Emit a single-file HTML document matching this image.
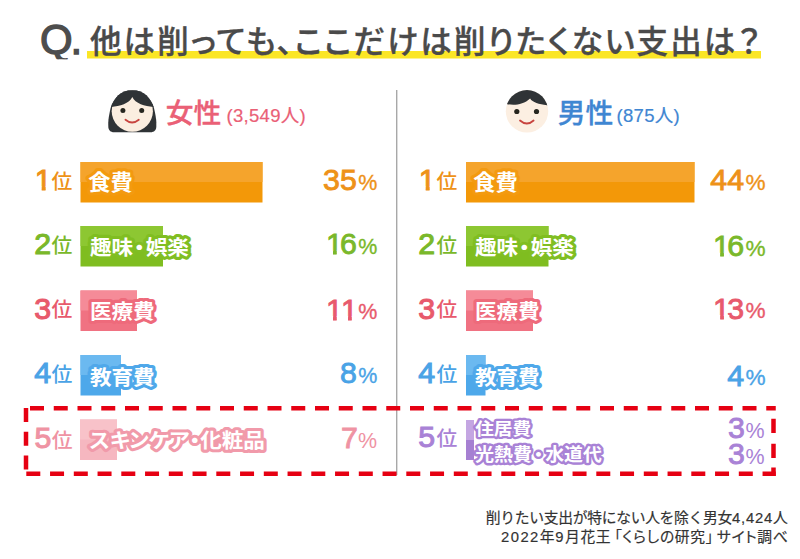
<!DOCTYPE html>
<html lang="ja">
<head>
<meta charset="utf-8">
<title>他は削っても、ここだけは削りたくない支出は？</title>
<style>
html,body{margin:0;padding:0;background:#fff;}
body{width:800px;height:559px;overflow:hidden;position:relative;}
svg{display:block;position:absolute;left:0;top:0;}
text{font-family:"Liberation Sans","Noto Sans CJK JP",sans-serif;}
.title{font-size:31.5px;font-weight:500;fill:#4a4a4a;stroke:#4a4a4a;stroke-width:0.35px;font-feature-settings:"palt";}
.q{font-size:42px;font-weight:400;fill:#4d4d4d;stroke:#4d4d4d;stroke-width:1.3px;letter-spacing:-2.2px;}
.rk{font-size:30.3px;font-weight:400;stroke-width:1.05px;}
.rkj{font-size:20.8px;font-weight:500;}
.pc{font-size:30.3px;font-weight:400;stroke-width:0.9px;letter-spacing:0px;}
.pcs{font-size:22.6px;font-weight:400;stroke-width:0.35px;}
.lb{font-size:21.6px;font-weight:700;fill:#fff;stroke-width:6.5px;stroke-linejoin:round;paint-order:stroke fill;}
.lb5{font-size:18.7px;font-weight:700;fill:#fff;stroke-width:5px;stroke-linejoin:round;paint-order:stroke fill;}
.hd{font-size:27.8px;font-weight:500;stroke-width:0.3px;stroke-linejoin:round;}
.hds{font-size:18.5px;font-weight:400;letter-spacing:0.3px;stroke-width:0.2px;}
.ft{font-size:14.8px;font-weight:400;fill:#333;stroke:#333;stroke-width:0.18px;}
</style>
</head>
<body>
<svg width="800" height="559" viewBox="0 0 800 559">
<rect x="0" y="0" width="800" height="559" fill="#ffffff"/>

<!-- title -->
<rect x="87" y="51" width="674" height="7.5" fill="#fbe626"/>
<clipPath id="qc"><rect x="30" y="15" width="60" height="44.2"/></clipPath>
<text class="q" x="40" y="54.4" clip-path="url(#qc)">Q.</text>
<text class="title" x="90" y="52.5" textLength="670" lengthAdjust="spacing">他は削っても、ここだけは削りたくない支出は？</text>

<!-- divider -->
<rect x="396" y="90" width="1.4" height="385" fill="#a8a8a8"/>

<!-- female header -->
<g>
  <clipPath id="hf"><path d="M132.3 90.3 C120.6 90.3 114 98 110.6 108 C109.4 113.5 108.3 119 108.25 122.6 L108.3 126.8 C108.4 130.2 110.5 132.3 114 132.3 L150.6 132.3 C154.1 132.3 156.2 130.2 156.3 126.8 L156.35 122.6 C156.3 119 155.2 113.5 154 108 C150.6 98 144 90.3 132.3 90.3 Z"/></clipPath>
  <path d="M132.3 90.3 C120.6 90.3 114 98 110.6 108 C109.4 113.5 108.3 119 108.25 122.6 L108.3 126.8 C108.4 130.2 110.5 132.3 114 132.3 L150.6 132.3 C154.1 132.3 156.2 130.2 156.3 126.8 L156.35 122.6 C156.3 119 155.2 113.5 154 108 C150.6 98 144 90.3 132.3 90.3 Z" fill="#2f3336"/>
  <circle cx="132.3" cy="111.2" r="20.6" fill="#fbeee0"/>
  <path clip-path="url(#hf)" d="M105 107 L111.4 107 C119.5 106.6 129.5 103.5 132.3 97.1 C135.1 103.5 145.1 106.6 153.2 107 L160 107 L160 85 L105 85 Z" fill="#2f3336"/>
  <circle cx="122.9" cy="110.4" r="2.5" fill="#26261f"/>
  <circle cx="141.7" cy="110.6" r="2.5" fill="#26261f"/>
  <path d="M125.5 119.7 Q132.1 125.2 138.8 119.7" fill="none" stroke="#c8443f" stroke-width="1.8" stroke-linecap="round"/>
</g>
<text class="hd" x="165.8" y="123.2" fill="#ea6076" stroke="#ea6076">女性</text>
<text class="hds" x="226.5" y="122" fill="#ea6076" stroke="#ea6076">(3,549人)</text>

<!-- male header -->
<g>
  <clipPath id="hm"><circle cx="527" cy="111.3" r="21.2"/></clipPath>
  <circle cx="527" cy="111.3" r="21.2" fill="#fcefe2"/>
  <path clip-path="url(#hm)" d="M500 104.2 L507.2 104.2 C514 105.6 523.5 105 530.1 98.6 C532.5 102.5 539 104.5 546.9 105.3 L555 105.6 L555 85 L500 85 Z" fill="#2f3336"/>
  <circle cx="516.8" cy="111.5" r="2.6" fill="#26261f"/>
  <circle cx="536.5" cy="111.5" r="2.6" fill="#26261f"/>
  <path d="M520 120.5 Q526.9 126.6 533.6 120.5" fill="none" stroke="#c8443f" stroke-width="1.8" stroke-linecap="round"/>
</g>
<text class="hd" x="557.8" y="123.2" fill="#3f86d2" stroke="#3f86d2">男性</text>
<text class="hds" x="616.5" y="122" fill="#3f86d2" stroke="#3f86d2">(875人)</text>

<!-- FEMALE rows -->
<g>
<rect x="80.5" y="162" width="182" height="40.5" fill="#f39808"/>
<rect x="80.5" y="162" width="182" height="20" fill="#f5a42c"/>
<text class="rk" fill="#ee9218" stroke="#ee9218" x="34.7" y="190.3" clip-path="url(#k0)">1</text><text class="rkj jp" fill="#ee9218" transform="translate(51.6,188.6) scale(1.0,1)">位</text>
<text class="lb jp" stroke="#f39a10" transform="translate(88.30000000000001,189.89999999999998) scale(1,0.95)" style="font-size:22.3px">食費</text>
<text class="pc" fill="#ee9218" stroke="#ee9218" x="323.11 339.95" y="190.2">35</text>
<text class="pcs" fill="#ee9218" stroke="#ee9218" transform="translate(358.2,189.9) scale(0.95,1)">%</text>
</g>
<g>
<rect x="80.5" y="226" width="82.5" height="40.5" fill="#7fbd20"/>
<rect x="80.5" y="226" width="82.5" height="20" fill="#8dc732"/>
<text class="rk" fill="#7ab82a" stroke="#7ab82a" x="34.2" y="254.3">2</text><text class="rkj jp" fill="#7ab82a" transform="translate(51.6,252.6) scale(1.0,1)">位</text>
<text class="lb jp" stroke="#80be22" transform="translate(89.9,254.7) scale(1,0.95)">趣味<tspan dx="-4.5">・</tspan><tspan dx="-4.5">娯楽</tspan></text>
<text class="pc" fill="#7ab82a" stroke="#7ab82a" x="325.91 339.95" y="254.2" clip-path="url(#k1)">16</text>
<text class="pcs" fill="#7ab82a" stroke="#7ab82a" transform="translate(358.2,253.9) scale(0.95,1)">%</text>
</g>
<g>
<rect x="80.5" y="290.5" width="56.5" height="40.5" fill="#f07282"/>
<rect x="80.5" y="290.5" width="56.5" height="20" fill="#f58b98"/>
<text class="rk" fill="#e85a6c" stroke="#e85a6c" x="34.2" y="318.8">3</text><text class="rkj jp" fill="#e85a6c" transform="translate(51.6,317.1) scale(1.0,1)">位</text>
<text class="lb jp" stroke="#ee6a7b" transform="translate(89.9,319.2) scale(1,0.95)">医療費</text>
<text class="pc" fill="#e85a6c" stroke="#e85a6c" x="325.91 340.95" y="319.59999999999997" clip-path="url(#k2)">11</text>
<text class="pcs" fill="#e85a6c" stroke="#e85a6c" transform="translate(358.2,319.29999999999995) scale(0.95,1)">%</text>
</g>
<g>
<rect x="80.5" y="355" width="40.5" height="40.5" fill="#4da8ea"/>
<rect x="80.5" y="355" width="40.5" height="20" fill="#6bb9f0"/>
<text class="rk" fill="#4aa3e6" stroke="#4aa3e6" x="34.2" y="383.3">4</text><text class="rkj jp" fill="#4aa3e6" transform="translate(51.6,381.6) scale(1.0,1)">位</text>
<text class="lb jp" stroke="#4fa8ea" transform="translate(89.9,384.7) scale(1,0.95)">教育費</text>
<text class="pc" fill="#4aa3e6" stroke="#4aa3e6" x="339.95" y="383.2">8</text>
<text class="pcs" fill="#4aa3e6" stroke="#4aa3e6" transform="translate(358.2,382.9) scale(0.95,1)">%</text>
</g>
<g>
  <rect x="80" y="419.5" width="37" height="40.5" fill="#f6b7c0"/>
  <rect x="80" y="419.5" width="37" height="20" fill="#f8c2c9"/>
  <text class="rk" fill="#ef93a3" stroke="#ef93a3" x="34.4" y="448.2">5</text><text class="rkj" fill="#ef93a3" transform="translate(51.8,448.1) scale(1.0,1)">位</text>
  <text class="lb" stroke="#f19aaa" transform="translate(89.5,448.4) scale(1,0.94)" style="font-feature-settings:'palt'">スキンケア・化粧品</text>
  <text class="pc" fill="#ef93a3" stroke="#ef93a3" text-anchor="end" x="357.8" y="448.3">7</text>
  <text class="pcs" fill="#ef93a3" transform="translate(357.9,448.1) scale(0.95,1)">%</text>
</g>

<!-- MALE rows -->
<g>
<rect x="466.0" y="162" width="228.5" height="40.5" fill="#f39808"/>
<rect x="466.0" y="162" width="228.5" height="20" fill="#f5a42c"/>
<text class="rk" fill="#ee9218" stroke="#ee9218" x="418.7" y="190.3" clip-path="url(#k3)">1</text><text class="rkj jp" fill="#ee9218" transform="translate(436.6,188.6) scale(1.0,1)">位</text>
<text class="lb jp" stroke="#f39a10" transform="translate(473.29999999999995,189.89999999999998) scale(1,0.95)" style="font-size:22.3px">食費</text>
<text class="pc" fill="#ee9218" stroke="#ee9218" x="710.31 727.15" y="190.2">44</text>
<text class="pcs" fill="#ee9218" stroke="#ee9218" transform="translate(745.4,189.9) scale(1.0,1)">%</text>
</g>
<g>
<rect x="466.0" y="226" width="82.5" height="40.5" fill="#7fbd20"/>
<rect x="466.0" y="226" width="82.5" height="20" fill="#8dc732"/>
<text class="rk" fill="#7ab82a" stroke="#7ab82a" x="418.2" y="254.3">2</text><text class="rkj jp" fill="#7ab82a" transform="translate(436.6,252.6) scale(1.0,1)">位</text>
<text class="lb jp" stroke="#80be22" transform="translate(474.9,254.7) scale(1,0.95)">趣味<tspan dx="-4.5">・</tspan><tspan dx="-4.5">娯楽</tspan></text>
<text class="pc" fill="#7ab82a" stroke="#7ab82a" x="713.11 727.15" y="256.4" clip-path="url(#k4)">16</text>
<text class="pcs" fill="#7ab82a" stroke="#7ab82a" transform="translate(745.4,256.1) scale(1.0,1)">%</text>
</g>
<g>
<rect x="466.0" y="290.5" width="67.0" height="40.5" fill="#f07282"/>
<rect x="466.0" y="290.5" width="67.0" height="20" fill="#f58b98"/>
<text class="rk" fill="#e85a6c" stroke="#e85a6c" x="418.2" y="318.8">3</text><text class="rkj jp" fill="#e85a6c" transform="translate(436.6,317.1) scale(1.0,1)">位</text>
<text class="lb jp" stroke="#ee6a7b" transform="translate(474.9,319.2) scale(1,0.95)">医療費</text>
<text class="pc" fill="#e85a6c" stroke="#e85a6c" x="713.11 727.15" y="318.7" clip-path="url(#k5)">13</text>
<text class="pcs" fill="#e85a6c" stroke="#e85a6c" transform="translate(745.4,318.4) scale(1.0,1)">%</text>
</g>
<g>
<rect x="466.0" y="355" width="19.5" height="40.5" fill="#4da8ea"/>
<rect x="466.0" y="355" width="19.5" height="20" fill="#6bb9f0"/>
<text class="rk" fill="#4aa3e6" stroke="#4aa3e6" x="418.2" y="383.3">4</text><text class="rkj jp" fill="#4aa3e6" transform="translate(436.6,381.6) scale(1.0,1)">位</text>
<text class="lb jp" stroke="#4fa8ea" transform="translate(474.9,384.7) scale(1,0.95)">教育費</text>
<text class="pc" fill="#4aa3e6" stroke="#4aa3e6" x="727.15" y="385.5">4</text>
<text class="pcs" fill="#4aa3e6" stroke="#4aa3e6" transform="translate(745.4,385.2) scale(1.0,1)">%</text>
</g>
<g>
  <rect x="466" y="420" width="8" height="40" fill="#a680d2"/>
  <rect x="466" y="420" width="8" height="20" fill="#c4a6e2"/>
  <text class="rk" fill="#a982d6" stroke="#a982d6" x="418.3" y="446.6">5</text><text class="rkj" fill="#a982d6" transform="translate(436.4,445.6) scale(1.0,1)">位</text>
  <text class="lb5" stroke="#a982d6" transform="translate(475.2,434.8) scale(1,0.9)">住居費</text>
  <text class="lb5" stroke="#a982d6" transform="translate(475.2,460.9) scale(1,0.96)" style="font-size:18.9px">光熱費<tspan dx="-2.8">・</tspan><tspan dx="-2.8">水道代</tspan></text>
  <text class="pc" fill="#a982d6" stroke="#a982d6" text-anchor="end" x="744.8" y="437.9">3</text>
  <text class="pcs" fill="#a982d6" transform="translate(745.4,437.6) scale(0.95,1)">%</text>
  <text class="pc" fill="#a982d6" stroke="#a982d6" text-anchor="end" x="744.8" y="463.9">3</text>
  <text class="pcs" fill="#a982d6" transform="translate(745.4,463.6) scale(0.95,1)">%</text>
</g>

<!-- dashed red box -->
<g fill="none" stroke="#e60012" stroke-width="4.5">
  <path d="M30 408.3 H775.75" stroke-dasharray="14 9.75"/>
  <path d="M26.3 473.75 H775.75" stroke-dasharray="14 9.75"/>
  <path d="M26 408 V422 M26 431.75 V445.75 M26 455.5 V469.5"/>
  <path d="M773.5 418.75 V433 M773.5 443.75 V458 M773.5 467.5 V476"/>
</g>

<!-- footer -->
<text class="ft" x="485.8" y="523" textLength="302" lengthAdjust="spacing">削りたい支出が特にない人を除く男女<tspan letter-spacing="1.1">4,424</tspan>人</text>
<text class="ft" x="501" y="542.3" textLength="286.8" lengthAdjust="spacing" style="font-feature-settings:'palt'"><tspan letter-spacing="0.8">2022</tspan>年<tspan letter-spacing="0.8">9</tspan>月花王<tspan dx="3">「</tspan>くらしの研究」<tspan dx="3">サ</tspan>イト調べ</text>
<defs><clipPath id="k0"><path d="M31.70 160.00 L51.37 160.00 L51.37 186.56 L45.58 186.56 L45.58 193.30 L41.70 193.30 L41.70 186.56 L31.70 186.56 Z"/></clipPath><clipPath id="k1"><path d="M322.91 223.90 L342.57 223.90 L342.57 250.54 L336.71 250.54 L336.71 257.20 L332.98 257.20 L332.98 250.54 L322.91 250.54 Z M338.95 223.90 H361.16 V258.20 H342.26 V250.54 H338.95 Z"/></clipPath><clipPath id="k2"><path d="M322.91 289.30 L342.57 289.30 L342.57 315.94 L336.71 315.94 L336.71 322.60 L332.98 322.60 L332.98 315.94 L322.91 315.94 Z M337.95 289.30 L357.62 289.30 L357.62 315.94 L351.76 315.94 L351.76 322.60 L348.03 322.60 L348.03 315.94 L337.95 315.94 Z"/></clipPath><clipPath id="k3"><path d="M415.70 160.00 L435.37 160.00 L435.37 186.56 L429.58 186.56 L429.58 193.30 L425.70 193.30 L425.70 186.56 L415.70 186.56 Z"/></clipPath><clipPath id="k4"><path d="M710.11 226.10 L729.77 226.10 L729.77 252.74 L723.91 252.74 L723.91 259.40 L720.18 259.40 L720.18 252.74 L710.11 252.74 Z M726.15 226.10 H748.36 V260.40 H729.46 V252.74 H726.15 Z"/></clipPath><clipPath id="k5"><path d="M710.11 288.40 L729.77 288.40 L729.77 315.04 L723.91 315.04 L723.91 321.70 L720.18 321.70 L720.18 315.04 L710.11 315.04 Z M726.15 288.40 H748.36 V322.70 H729.46 V315.04 H726.15 Z"/></clipPath></defs>
</svg>
</body>
</html>
